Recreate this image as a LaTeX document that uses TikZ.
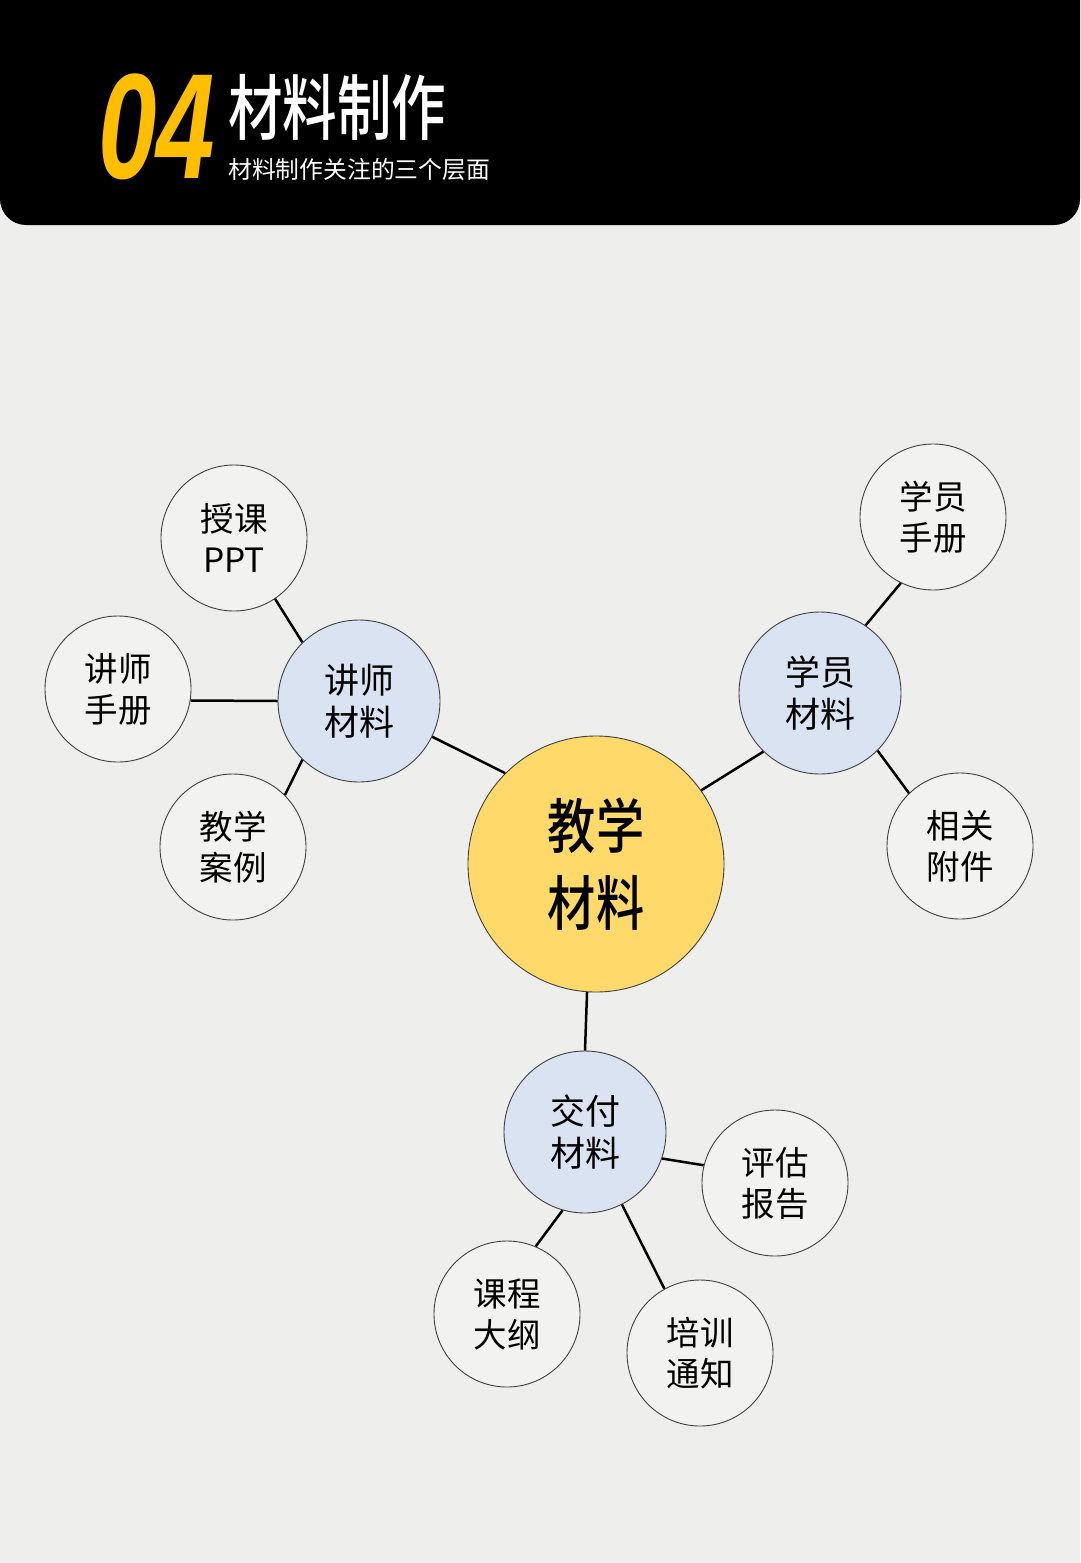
\documentclass[tikz,border=0pt]{standalone}
\usepackage{fontspec}
\setmainfont{Liberation Sans}
\newfontfamily\cjk{Noto Sans CJK SC}
\newfontfamily\cjkm{Noto Sans CJK SC Medium}
\definecolor{bgpaper}{HTML}{EEEEEC}
\definecolor{leaffill}{HTML}{F2F2F1}
\definecolor{midfill}{HTML}{DAE3F1}
\definecolor{corefill}{HTML}{FFDA6B}
\definecolor{rimcol}{HTML}{404040}
\definecolor{numyellow}{HTML}{FFBF00}
\tikzset{
  leaf/.style={circle, draw=rimcol, line width=0.9pt, fill=leaffill, minimum size=146pt, inner sep=0pt,
    align=center, font=\cjk\fontsize{33.5}{41}\selectfont},
  mid/.style={circle, draw=rimcol, line width=0.9pt, fill=midfill, minimum size=162pt, inner sep=0pt,
    align=center, font=\cjk\fontsize{35}{42}\selectfont},
  core/.style={circle, draw=rimcol, line width=0.9pt, fill=corefill, minimum size=256pt, inner sep=0pt,
    align=center, font=\cjkm\fontsize{56}{77}\selectfont},
  link/.style={line width=2.5pt, black}
}
\begin{document}
\begin{tikzpicture}[x=1pt,y=-1pt]
\useasboundingbox (0,0) rectangle (1080,1563);
\fill[bgpaper] (0,0) rectangle (1080,1563);
% header
\fill[black, rounded corners=26pt] (0,-40) rectangle (1080,225);
\node[anchor=south west, inner sep=0pt, text=numyellow] (num) at (98,180)
  {\scalebox{0.7}[1]{\fontsize{150}{150}\selectfont\bfseries\itshape 04}};
\node[anchor=south west, inner sep=0pt, text=white] (title) at (228,141)
  {\scalebox{0.88}[1.15]{\cjkm\fontsize{62}{62}\selectfont 材料制作}};
\node[anchor=west, inner sep=0pt, text=white, font=\cjk\fontsize{23.8}{23.8}\selectfont] (sub) at (228,170)
  {材料制作关注的三个层面};

% nodes
\node[core] (core) at (596,864) {\scalebox{0.86}[1.06]{教学}\\\scalebox{0.86}[1.06]{材料}};
\node[mid] (js) at (359,701) {讲师\\材料};
\node[mid] (xy) at (820,693) {学员\\材料};
\node[mid] (jf) at (585,1132) {交付\\材料};

\node[leaf] (ppt) at (234,538) {授课\\PPT};
\node[leaf] (jssc) at (118,689) {讲师\\手册};
\node[leaf] (jxal) at (233,847) {教学\\案例};
\node[leaf] (xysc) at (933,517) {学员\\手册};
\node[leaf] (xgfj) at (960,846) {相关\\附件};
\node[leaf] (pgbg) at (775,1183) {评估\\报告};
\node[leaf] (kcdg) at (507,1314) {课程\\大纲};
\node[leaf] (pxtz) at (700,1353) {培训\\通知};

% connectors
\draw[link] (js.134) -- (ppt.-56);
\draw[link] (js.180) -- (jssc.-9);
\draw[link] (js.-134) -- (jxal.45);
\draw[link] (js.-26) -- (core.135);
\draw[link] (xy.56) -- (xysc.-116);
\draw[link] (xy.-45) -- (xgfj.134);
\draw[link] (xy.-134) -- (core.35);
\draw[link] (core.-94) -- (jf.90);
\draw[link] (jf.-19) -- (pgbg.166);
\draw[link] (jf.-106) -- (kcdg.67);
\draw[link] (jf.-63) -- (pxtz.119);
\end{tikzpicture}
\end{document}
